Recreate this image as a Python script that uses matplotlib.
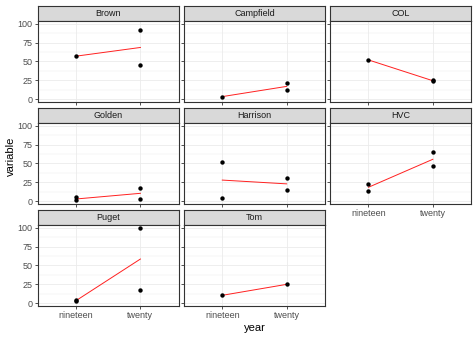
import matplotlib
matplotlib.use("Agg")
import matplotlib.pyplot as plt
import numpy as np

plt.rcParams['font.family'] = ['Liberation Sans', 'DejaVu Sans']

facets = ["Brown", "Campfield", "COL", "Golden", "Harrison", "HVC", "Puget", "Tom"]
x_labels = ["nineteen", "twenty"]
nineteen_vals = {
    "Brown": [57], "Campfield": [3.5], "COL": [52], "Golden": [5, 1],
    "Harrison": [52, 4], "HVC": [23, 14], "Puget": [3, 4], "Tom": [10.5],
}
twenty_vals = {
    "Brown": [92, 45], "Campfield": [22, 12], "COL": [24, 25], "Golden": [18, 3],
    "Harrison": [31, 15], "HVC": [65, 46], "Puget": [99, 18], "Tom": [25],
}
y_ticks = [0, 25, 50, 75, 100]

W, H = 474, 338
fig = plt.figure(figsize=(W / 100, H / 100), dpi=100)
fig.patch.set_facecolor("white")

left0 = 37.5
pw = 141.5
gx = 4.7
strip_h = 15.0
ph = 81.5
gy = 5.5
top0 = 5.7

all_vals = [v for d in (nineteen_vals, twenty_vals) for k in d for v in d[k]]
ymin, ymax = min(all_vals), max(all_vals)
pad = 0.05 * (ymax - ymin)

tick_col = "#4D4D4D"
for i, name in enumerate(facets):
    r, c = divmod(i, 3)
    x0 = left0 + c * (pw + gx)
    ytop = top0 + r * (strip_h + ph + gy)
    # strip
    sax = fig.add_axes([x0 / W, 1 - (ytop + strip_h) / H, pw / W, strip_h / H])
    sax.set_facecolor("#D9D9D9")
    sax.set_xticks([]); sax.set_yticks([])
    for s in sax.spines.values():
        s.set_color("#333333"); s.set_linewidth(0.8)
    sax.text(0.5, 0.5, name, ha="center", va="center", fontsize=6.5,
             color="#1A1A1A", transform=sax.transAxes)
    # panel
    ax = fig.add_axes([x0 / W, 1 - (ytop + strip_h + ph) / H, pw / W, ph / H])
    ax.set_xlim(0.4, 2.6)
    ax.set_ylim(ymin - pad, ymax + pad)
    ax.set_yticks(y_ticks)
    ax.set_yticks([12.5, 37.5, 62.5, 87.5], minor=True)
    ax.set_xticks([1, 2])
    ax.grid(True, which="major", color="#EBEBEB", lw=0.6)
    ax.grid(True, which="minor", axis="y", color="#EBEBEB", lw=0.3)
    ax.set_axisbelow(True)
    for s in ax.spines.values():
        s.set_color("#333333"); s.set_linewidth(0.8)
    ax.tick_params(which="both", length=2, width=0.6, color="#333333",
                   labelsize=6.5, labelcolor=tick_col, pad=1.5)
    ax.tick_params(which="minor", length=0)
    a = nineteen_vals[name]; b = twenty_vals[name]
    ax.plot([1, 2], [np.mean(a), np.mean(b)], color="#FF2020", lw=0.7, zorder=2)
    ax.scatter([1] * len(a) + [2] * len(b), a + b, s=10, color="black", zorder=3,
               linewidths=0)
    if c == 0:
        ax.set_yticklabels([str(t) for t in y_ticks])
    else:
        ax.set_yticklabels([])
    has_below = i + 3 < len(facets)
    if has_below:
        ax.set_xticklabels([])
    else:
        ax.set_xticklabels(x_labels)

fig.text((left0 + 1.5 * pw + gx) / W, 1 - 328 / H, "year", ha="center",
         va="center", fontsize=8, color="black")
fig.text(10.5 / W, 1 - 156 / H, "variable", ha="center", va="center",
         rotation=90, fontsize=8, color="black")

fig.savefig("out.png", dpi=100, facecolor="white")
